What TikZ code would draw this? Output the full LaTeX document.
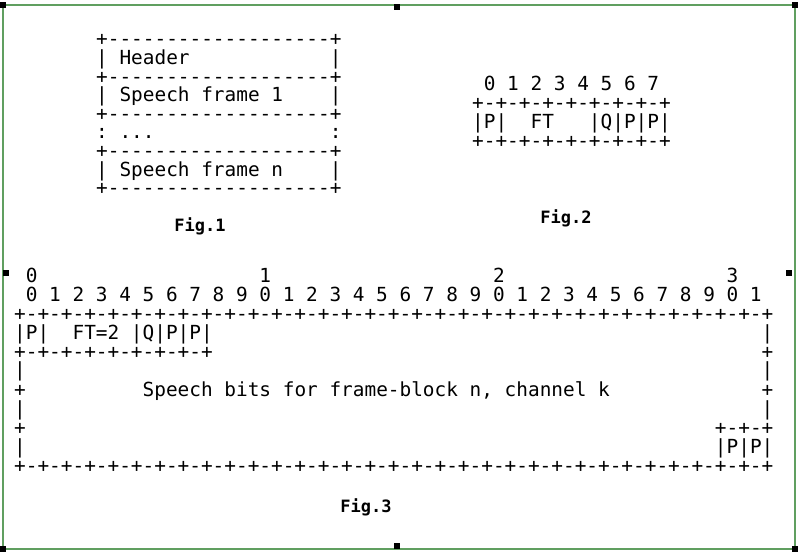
\documentclass[tikz,border=0pt]{standalone}
\usepackage{fontspec}
\setmainfont{DejaVu Sans}
\setmonofont{DejaVu Sans Mono}
\usetikzlibrary{positioning}
\tikzset{
  asc/.style={anchor=base west,inner sep=0pt,font=\ttfamily\fontsize{19.4}{19}\selectfont},
  figlab/.style={inner sep=0pt,font=\ttfamily\bfseries\fontsize{17}{17}\selectfont},
  handle/.style={fill=black,minimum size=6pt,inner sep=0pt}
}
\begin{document}
\begin{tikzpicture}[x=1pt,y=-1pt]
\useasboundingbox (0,0) rectangle (798,553);
\draw [color=green!25!gray,line width=1.2pt] (3,5) rectangle (795,549);
% handles
\node [handle] (h1) at (3,5) {};
\node [handle] (h2) at (397,7) {};
\node [handle] (h3) at (795,5) {};
\node [handle] (h4) at (6,273) {};
\node [handle] (h5) at (789,273) {};
\node [handle] (h6) at (3,549) {};
\node [handle] (h7) at (397,546) {};
\node [handle] (h8) at (795,549) {};
% Fig.1
\node [asc] (f1a) at (96,46) {\verb?+-------------------+?};
\node [asc] (f1b) at (96,64.6) {\verb?| Header            |?};
\node [asc] (f1c) at (96,83.2) {\verb?+-------------------+?};
\node [asc] (f1d) at (96,101.8) {\verb?| Speech frame 1    |?};
\node [asc] (f1e) at (96,120.4) {\verb?+-------------------+?};
\node [asc] (f1f) at (96,139) {\verb?: ...               :?};
\node [asc] (f1g) at (96,157.6) {\verb?+-------------------+?};
\node [asc] (f1h) at (96,176.2) {\verb?| Speech frame n    |?};
\node [asc] (f1i) at (96,194.8) {\verb?+-------------------+?};
\node [figlab] (fig1) at (200,226) {Fig.1};
% Fig.2
\node [asc] (f2a) at (472,91) {\verb? 0 1 2 3 4 5 6 7?};
\node [asc] (f2b) at (472,110) {\verb?+-+-+-+-+-+-+-+-+?};
\node [asc] (f2c) at (472,129) {\verb?|P|  FT   |Q|P|P|?};
\node [asc] (f2d) at (472,148) {\verb?+-+-+-+-+-+-+-+-+?};
\node [figlab] (fig2) at (566,218) {Fig.2};
% Fig.3
\node [asc] (f3a) at (14,283) {\verb? 0                   1                   2                   3?};
\node [asc] (f3b) at (14,302) {\verb? 0 1 2 3 4 5 6 7 8 9 0 1 2 3 4 5 6 7 8 9 0 1 2 3 4 5 6 7 8 9 0 1?};
\node [asc] (f3c) at (14,321) {\verb?+-+-+-+-+-+-+-+-+-+-+-+-+-+-+-+-+-+-+-+-+-+-+-+-+-+-+-+-+-+-+-+-+?};
\node [asc] (f3d) at (14,340) {\verb?|P|  FT=2 |Q|P|P|                                               |?};
\node [asc] (f3e) at (14,359) {\verb?+-+-+-+-+-+-+-+-+                                               +?};
\node [asc] (f3f) at (14,377) {\verb?|                                                               |?};
\node [asc] (f3g) at (14,396) {\verb?+          Speech bits for frame-block n, channel k             +?};
\node [asc] (f3h) at (14,415) {\verb?|                                                               |?};
\node [asc] (f3i) at (14,434) {\verb?+                                                           +-+-+?};
\node [asc] (f3j) at (14,453) {\verb?|                                                           |P|P|?};
\node [asc] (f3k) at (14,472) {\verb?+-+-+-+-+-+-+-+-+-+-+-+-+-+-+-+-+-+-+-+-+-+-+-+-+-+-+-+-+-+-+-+-+?};
\node [figlab] (fig3) at (366,507) {Fig.3};
\end{tikzpicture}
\end{document}
